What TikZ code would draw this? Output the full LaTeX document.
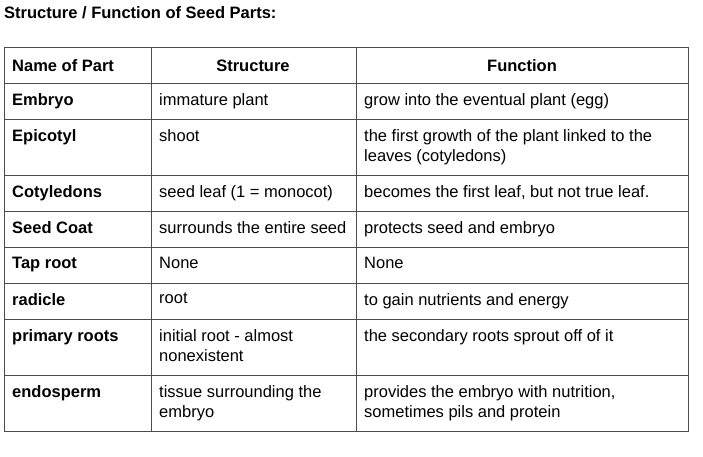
\documentclass[tikz,border=0pt]{standalone}
\usepackage{fontspec}
\setmainfont{Liberation Sans}
\begin{document}
\begin{tikzpicture}[x=1pt,y=-1pt,
  grid/.style={draw=black!70,line width=0.8pt},
  cell/.style={anchor=north west,inner sep=0pt,align=left,font=\fontsize{16.5}{20}\selectfont},
  bcell/.style={cell,font=\fontsize{16.5}{20}\selectfont\bfseries},
  head/.style={inner sep=0pt,font=\fontsize{16.5}{20}\selectfont\bfseries}]
\useasboundingbox (0,0) rectangle (703,456);
\node[anchor=west,inner sep=0pt,font=\fontsize{16.5}{20}\selectfont\bfseries] (title) at (4,13) {Structure / Function of Seed Parts:};
\draw[grid] (4,47) rectangle (688,431);
\foreach \y in {83,119,175,211,247,283,319,375} \draw[grid] (4,\y) -- (688,\y);
\draw[grid] (151,47) -- (151,431);
\draw[grid] (356,47) -- (356,431);
\node[head,anchor=west] (h1) at (12,66) {Name of Part};
\node[head] (h2) at (253,66) {Structure};
\node[head] (h3) at (522,66) {Function};
\foreach \n/\t/\a/\b/\c in {
 r1/93/Embryo/immature plant/grow into the eventual plant (egg),
 r2/129/Epicotyl/shoot/{the first growth of the plant linked to the\\leaves (cotyledons)},
 r3/185/Cotyledons/seed leaf (1 = monocot)/{becomes the first leaf, but not true leaf.},
 r4/221/Seed Coat/surrounds the entire seed/protects seed and embryo,
 r5/257/Tap root/None/None,
 r6/293/radicle/root/to gain nutrients and energy,
 r7/329/primary roots/{initial root - almost\\nonexistent}/the secondary roots sprout off of it,
 r8/385/endosperm/{tissue surrounding the\\embryo}/{provides the embryo with nutrition,\\sometimes pils and protein}}{
 \node[bcell] (\n a) at (12,\t) {\a};
 \node[cell] (\n b) at (159,\t) {\b};
 \node[cell] (\n c) at (364,\t) {\c};
}
\end{tikzpicture}
\end{document}
